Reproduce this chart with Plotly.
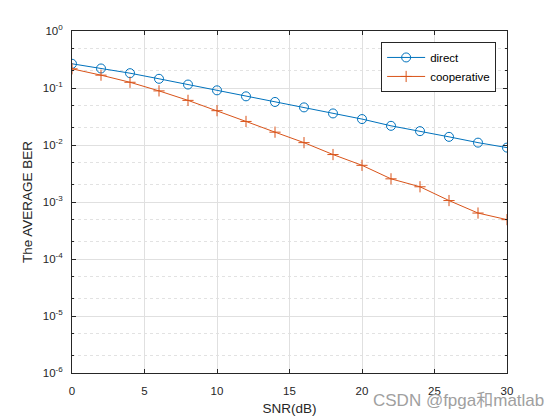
import plotly.graph_objects as go

# SNR en dB
snr = [0, 2, 4, 6, 8, 10, 12, 14, 16, 18, 20, 22, 24, 26, 28, 30]

# BER promedio
ber_direct = [0.266, 0.22, 0.182, 0.145, 0.115, 0.091, 0.0714, 0.0569, 0.0457,
              0.0358, 0.0285, 0.0217, 0.0175, 0.0139, 0.0110, 0.0090]
ber_coop = [0.217, 0.168, 0.126, 0.089, 0.0607, 0.040, 0.0259, 0.0168, 0.0110,
            0.0068, 0.0044, 0.00255, 0.00185, 0.00106, 0.00064, 0.00049]

y_tick_vals = [1e-6, 1e-5, 1e-4, 1e-3, 1e-2, 1e-1, 1e0]
y_tick_text = ["10<sup>-6</sup>", "10<sup>-5</sup>", "10<sup>-4</sup>", "10<sup>-3</sup>",
               "10<sup>-2</sup>", "10<sup>-1</sup>", "10<sup>0</sup>"]

ink = "#262626"

fig = go.Figure()
fig.add_trace(go.Scatter(
    x=snr, y=ber_direct, name="direct", mode="lines+markers",
    line=dict(color="#0072BD", width=1),
    marker=dict(symbol="circle-open", size=9, color="#0072BD", line=dict(width=1)),
))
fig.add_trace(go.Scatter(
    x=snr, y=ber_coop, name="cooperative", mode="lines+markers",
    line=dict(color="#D95319", width=1),
    marker=dict(symbol="cross-thin-open", size=8, color="#D95319", line=dict(width=1, color="#D95319")),
))

# la pagina tiene 8px de margen en body, se compensa aqui
fig.update_layout(
    width=560, height=420,
    margin=dict(l=64, r=61, t=23, b=55, autoexpand=False),
    paper_bgcolor="white", plot_bgcolor="white",
    font=dict(family="Liberation Sans, Arial", size=11, color=ink),
    legend=dict(
        x=0.975, y=0.968, xanchor="right", yanchor="top",
        bordercolor=ink, borderwidth=1, bgcolor="white",
        font=dict(size=11.5, color="black"), tracegroupgap=0,
        itemwidth=38,
    ),
    annotations=[dict(
        text="CSDN @fpga和matlab", xref="paper", yref="paper",
        x=1.09, y=-0.08, xanchor="right", yanchor="middle",
        showarrow=False, font=dict(size=17, color="#a0a0a0",
                                    family="Liberation Sans, Noto Sans CJK SC"),
    )],
)

fig.update_xaxes(
    range=[0, 30], dtick=5, ticks="inside", ticklen=4, tickcolor=ink,
    showline=True, linecolor=ink, linewidth=1, mirror="ticks",
    showgrid=True, gridcolor="#e0e0e0", gridwidth=1, zeroline=False,
    tickfont=dict(size=11.5), ticklabelstandoff=7, automargin=False,
    title=dict(text="SNR(dB)", font=dict(size=13.5), standoff=7),
)
fig.update_yaxes(
    type="log", range=[-6, 0], tickvals=y_tick_vals, ticktext=y_tick_text,
    ticks="inside", ticklen=4, tickcolor=ink,
    showline=True, linecolor=ink, linewidth=1, mirror="ticks",
    showgrid=True, gridcolor="#e0e0e0", gridwidth=1, zeroline=False,
    tickfont=dict(size=11.5), ticklabelstandoff=6, automargin=False,
    minor=dict(ticks="inside", ticklen=2, tickcolor=ink, showgrid=True,
               gridcolor="#e2e2e2", griddash="dot", gridwidth=1),
    title=dict(text="The AVERAGE BER", font=dict(size=13.5), standoff=7),
)

fig.write_html("out.html")
